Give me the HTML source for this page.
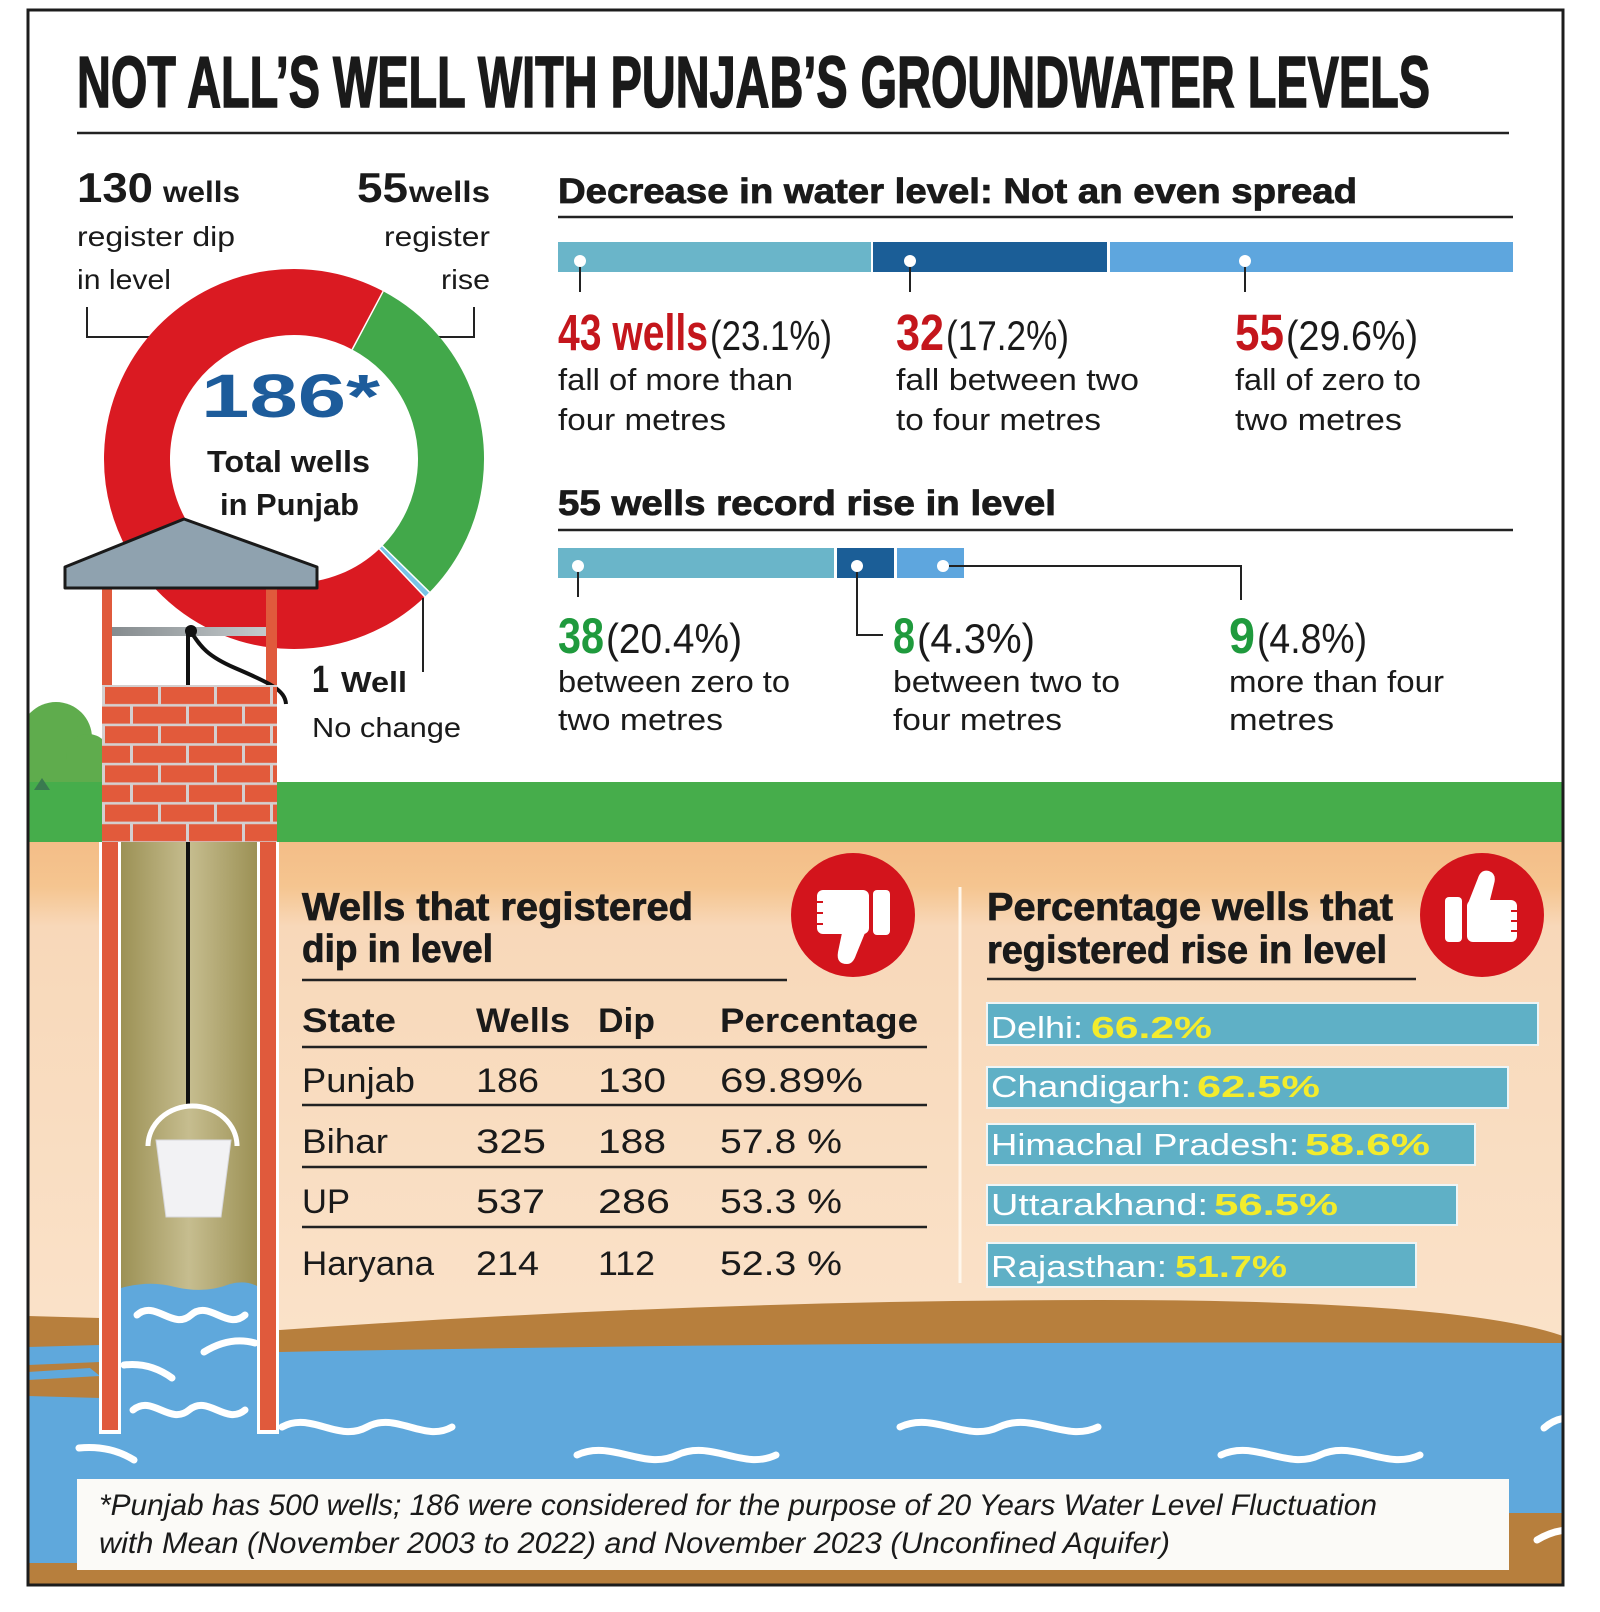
<!DOCTYPE html>
<html>
<head>
<meta charset="utf-8">
<style>
html,body{margin:0;padding:0;background:#fff;}
svg{display:block;}
text{font-family:"Liberation Sans",sans-serif;fill:#1a1a1a;}
.b{font-weight:bold;}
.hv{stroke:#1a1a1a;stroke-width:0.8;}
</style>
</head>
<body>
<svg width="1600" height="1612" viewBox="0 0 1600 1612" xmlns="http://www.w3.org/2000/svg">
<defs>
  <clipPath id="fc"><rect x="28" y="10" width="1535" height="1575"/></clipPath>
  <linearGradient id="peach" x1="0" y1="842" x2="0" y2="1340" gradientUnits="userSpaceOnUse">
    <stop offset="0" stop-color="#f4bd87"/>
    <stop offset="0.09" stop-color="#f5c590"/>
    <stop offset="0.17" stop-color="#f8d8b9"/>
    <stop offset="1" stop-color="#fae2c9"/>
  </linearGradient>
  <linearGradient id="shaft" x1="121" y1="0" x2="257" y2="0" gradientUnits="userSpaceOnUse">
    <stop offset="0" stop-color="#9c9155"/>
    <stop offset="0.5" stop-color="#c6bd8f"/>
    <stop offset="1" stop-color="#9c9155"/>
  </linearGradient>
  <linearGradient id="bar" x1="0" y1="0" x2="1" y2="0">
    <stop offset="0" stop-color="#858b8e"/>
    <stop offset="1" stop-color="#c4cacc"/>
  </linearGradient>
  <pattern id="brk" x="102" y="685" width="112" height="39.2" patternUnits="userSpaceOnUse">
    <rect width="112" height="39.2" fill="#d4cfcf"/>
    <rect x="3" y="2" width="53" height="17" fill="#e25a3b"/>
    <rect x="59" y="2" width="53" height="17" fill="#e25a3b"/>
    <rect x="-25" y="21.6" width="53" height="17" fill="#e25a3b"/>
    <rect x="31" y="21.6" width="53" height="17" fill="#e25a3b"/>
    <rect x="87" y="21.6" width="53" height="17" fill="#e25a3b"/>
  </pattern>
</defs>

<g clip-path="url(#fc)">
  <rect x="0" y="0" width="1600" height="1612" fill="#ffffff"/>

  <!-- bush -->
  <circle cx="56" cy="738" r="36" fill="#5fac4d"/>
  <circle cx="88" cy="756" r="22" fill="#5fac4d"/>
  <rect x="28" y="760" width="80" height="30" fill="#5fac4d"/>

  <!-- green ground -->
  <rect x="28" y="782" width="1535" height="60" fill="#46ad4b"/>
  <polygon points="34,790 42,778 50,790" fill="#3a7a50"/>

  <!-- peach soil -->
  <rect x="28" y="842" width="1535" height="500" fill="url(#peach)"/>

  <!-- brown layer -->
  <path d="M28,1316 L100,1318 L280,1330 Q700,1300 1100,1300 Q1460,1300 1563,1336 L1563,1612 L28,1612 Z" fill="#b77f3d"/>
  <!-- water -->
  <path d="M28,1396 L100,1398 L100,1352 L280,1352 Q900,1340 1563,1343 L1563,1513 L1509,1513 L1509,1563 L28,1563 Z" fill="#5fa8dc"/>
  <path d="M28,1347 L100,1345 L100,1362 L28,1365 Z" fill="#5fa8dc"/>
  <path d="M28,1372 L90,1368 L100,1376 L28,1380 Z" fill="#5fa8dc"/>

  <!-- shaft -->
  <rect x="121" y="842" width="136" height="450" fill="url(#shaft)"/>
  <path d="M121,1288 Q150,1280 175,1287 Q205,1294 230,1284 Q245,1280 257,1286 L257,1440 L121,1440 Z" fill="#5fa8dc"/>

  <!-- rope in shaft -->
  <line x1="188" y1="842" x2="188" y2="1108" stroke="#111" stroke-width="4"/>
  <!-- bucket -->
  <path d="M148,1146 A44.5,40 0 0 1 237,1146" fill="none" stroke="#ffffff" stroke-width="5"/>
  <polygon points="156,1140 231,1140 221,1217 166,1217" fill="#f2f2f4" stroke="#d8d8dc" stroke-width="1"/>

  <!-- lower posts -->
  <rect x="99" y="842" width="22" height="592" fill="#ffffff"/>
  <rect x="102" y="842" width="16" height="588" fill="#e05a3c"/>
  <rect x="257" y="842" width="22" height="592" fill="#ffffff"/>
  <rect x="260" y="842" width="16" height="588" fill="#e05a3c"/>

  <!-- waves -->
  <g fill="none" stroke="#ffffff" stroke-width="7" stroke-linecap="round">
    <path d="M137,1315 C155,1299 173,1331 191,1315 C209,1299 227,1331 245,1315"/>
    <path d="M204,1352 Q230,1336 255,1343"/>
    <path d="M124,1365 Q150,1362 172,1378"/>
    <path d="M133,1410 C152,1394 170,1426 189,1410 C208,1394 226,1426 245,1410"/>
    <path d="M282,1427 C311,1411 338,1443 367,1427 C396,1411 424,1443 452,1427"/>
    <path d="M79,1448 Q110,1445 134,1460"/>
    <path d="M577,1455 C611,1439 644,1471 677,1455 C711,1439 743,1471 776,1455"/>
    <path d="M900,1427 C934,1411 966,1443 999,1427 C1033,1411 1065,1443 1098,1427"/>
    <path d="M1221,1455 C1255,1439 1287,1471 1320,1455 C1354,1439 1386,1471 1420,1455"/>
    <path d="M1544,1428 Q1553,1420 1565,1418"/>
    <path d="M1537,1540 Q1550,1532 1565,1530"/>
  </g>

  <!-- footnote box -->
  <rect x="77" y="1479" width="1432" height="91" fill="#fbfaf7"/>
  <text x="99" y="1515" font-size="30" font-style="italic" textLength="1278" lengthAdjust="spacingAndGlyphs">*Punjab has 500 wells; 186 were considered for the purpose of 20 Years Water Level Fluctuation</text>
  <text x="99" y="1553" font-size="30" font-style="italic" textLength="1071" lengthAdjust="spacingAndGlyphs">with Mean (November 2003 to 2022) and November 2023 (Unconfined Aquifer)</text>

  <!-- TITLE -->
  <text x="77" y="107" font-size="72" class="b" style="stroke:#1a1a1a;stroke-width:1.6" textLength="1353" lengthAdjust="spacingAndGlyphs">NOT ALL’S WELL WITH PUNJAB’S GROUNDWATER LEVELS</text>
  <line x1="77" y1="133" x2="1509" y2="133" stroke="#222" stroke-width="2.5"/>

  <!-- left labels -->
  <text x="77" y="202" font-size="42" class="b" textLength="76" lengthAdjust="spacingAndGlyphs">130</text>
  <text x="163" y="202" font-size="30" class="b" textLength="77" lengthAdjust="spacingAndGlyphs">wells</text>
  <text x="77" y="246" font-size="28" textLength="158" lengthAdjust="spacingAndGlyphs">register dip</text>
  <text x="77" y="289" font-size="28" textLength="94" lengthAdjust="spacingAndGlyphs">in level</text>
  <text x="357" y="202" font-size="42" class="b" textLength="51" lengthAdjust="spacingAndGlyphs">55</text>
  <text x="409" y="202" font-size="30" class="b" textLength="81" lengthAdjust="spacingAndGlyphs">wells</text>
  <text x="384" y="246" font-size="28" textLength="106" lengthAdjust="spacingAndGlyphs">register</text>
  <text x="441" y="289" font-size="28" textLength="49" lengthAdjust="spacingAndGlyphs">rise</text>
  <polyline points="87,307 87,337 158,337" fill="none" stroke="#222" stroke-width="2"/>
  <polyline points="474,307 474,337 411,337" fill="none" stroke="#222" stroke-width="2"/>

  <!-- donut -->
  <circle cx="294" cy="459" r="157" fill="none" stroke="#42a84a" stroke-width="66" stroke-dasharray="291.8 2000" transform="rotate(-62 294 459)"/>
  <circle cx="294" cy="459" r="157" fill="none" stroke="#da1a22" stroke-width="66" stroke-dasharray="689.5 2000" transform="rotate(46.5 294 459)"/>
  <circle cx="294" cy="459" r="157" fill="none" stroke="#79c4e6" stroke-width="66" stroke-dasharray="5.5 2000" transform="rotate(44.5 294 459)"/>
  <line x1="352.2" y1="349.5" x2="383.2" y2="291.2" stroke="#fff" stroke-width="1.5"/>
  <line x1="382.4" y1="545.9" x2="429.5" y2="592.2" stroke="#fff" stroke-width="1.5"/>
  <line x1="379.4" y1="549.0" x2="424.8" y2="596.8" stroke="#fff" stroke-width="1.5"/>
  <line x1="423" y1="598" x2="423" y2="672" stroke="#222" stroke-width="2"/>

  <text x="201" y="417" font-size="61" class="b" style="fill:#1d5c9b" textLength="179" lengthAdjust="spacingAndGlyphs">186*</text>
  <text x="207" y="472" font-size="31" class="b" textLength="163" lengthAdjust="spacingAndGlyphs">Total wells</text>
  <text x="220" y="515" font-size="31" class="b" textLength="139" lengthAdjust="spacingAndGlyphs">in Punjab</text>

  <text x="312" y="692" font-size="38" class="b" textLength="17" lengthAdjust="spacingAndGlyphs">1</text>
  <text x="341" y="692" font-size="29" class="b" textLength="66" lengthAdjust="spacingAndGlyphs">Well</text>
  <text x="312" y="737" font-size="28" textLength="149" lengthAdjust="spacingAndGlyphs">No change</text>

  <!-- well top structure -->
  <rect x="102" y="588" width="10" height="97" fill="#e05a3c"/>
  <rect x="266" y="588" width="11" height="97" fill="#e05a3c"/>
  <rect x="112" y="627" width="154" height="9" fill="url(#bar)"/>
  <line x1="188" y1="631" x2="188" y2="686" stroke="#111" stroke-width="4"/>
  <path d="M191,632 C200,645 205,655 235,668 C270,683 285,690 286,704" fill="none" stroke="#111" stroke-width="4"/>
  <circle cx="191" cy="631" r="6" fill="#111"/>
  <polygon points="184,519 65,567 65,588 317,588 317,567" fill="#8fa2af" stroke="#1a1a1a" stroke-width="3" stroke-linejoin="round"/>
  <rect x="102" y="685" width="175" height="157" fill="url(#brk)"/>

  <!-- decrease section -->
  <text x="558" y="203" font-size="35" class="b hv" textLength="799" lengthAdjust="spacingAndGlyphs">Decrease in water level: Not an even spread</text>
  <line x1="558" y1="217" x2="1513" y2="217" stroke="#222" stroke-width="2.5"/>
  <rect x="558" y="242" width="313" height="30" fill="#6ab5c9"/>
  <rect x="873" y="242" width="234" height="30" fill="#1b5e97"/>
  <rect x="1110" y="242" width="403" height="30" fill="#5ea6de"/>
  <g stroke="#222" stroke-width="2">
    <line x1="580" y1="266" x2="580" y2="292"/>
    <line x1="910" y1="266" x2="910" y2="292"/>
    <line x1="1245" y1="266" x2="1245" y2="292"/>
  </g>
  <g fill="#fff">
    <circle cx="580" cy="261" r="6"/>
    <circle cx="910" cy="261" r="6"/>
    <circle cx="1245" cy="261" r="6"/>
  </g>
  <text x="558" y="350" font-size="51" class="b" style="fill:#c4161c" textLength="150" lengthAdjust="spacingAndGlyphs">43 wells</text>
  <text x="710" y="350" font-size="42" textLength="122" lengthAdjust="spacingAndGlyphs">(23.1%)</text>
  <text x="558" y="390" font-size="31" textLength="235" lengthAdjust="spacingAndGlyphs">fall of more than</text>
  <text x="558" y="430" font-size="31" textLength="168" lengthAdjust="spacingAndGlyphs">four metres</text>
  <text x="896" y="350" font-size="51" class="b" style="fill:#c4161c" textLength="48" lengthAdjust="spacingAndGlyphs">32</text>
  <text x="946" y="350" font-size="42" textLength="123" lengthAdjust="spacingAndGlyphs">(17.2%)</text>
  <text x="896" y="390" font-size="31" textLength="243" lengthAdjust="spacingAndGlyphs">fall between two</text>
  <text x="896" y="430" font-size="31" textLength="205" lengthAdjust="spacingAndGlyphs">to four metres</text>
  <text x="1235" y="350" font-size="51" class="b" style="fill:#c4161c" textLength="49" lengthAdjust="spacingAndGlyphs">55</text>
  <text x="1286" y="350" font-size="42" textLength="132" lengthAdjust="spacingAndGlyphs">(29.6%)</text>
  <text x="1235" y="390" font-size="31" textLength="186" lengthAdjust="spacingAndGlyphs">fall of zero to</text>
  <text x="1235" y="430" font-size="31" textLength="167" lengthAdjust="spacingAndGlyphs">two metres</text>

  <!-- rise section -->
  <text x="558" y="515" font-size="35" class="b hv" textLength="498" lengthAdjust="spacingAndGlyphs">55 wells record rise in level</text>
  <line x1="558" y1="530" x2="1513" y2="530" stroke="#222" stroke-width="2.5"/>
  <rect x="558" y="548" width="276" height="30" fill="#6ab5c9"/>
  <rect x="837" y="548" width="57" height="30" fill="#1b5e97"/>
  <rect x="897" y="548" width="67" height="30" fill="#5ea6de"/>
  <g stroke="#222" stroke-width="2" fill="none">
    <line x1="578" y1="570" x2="578" y2="597"/>
    <polyline points="857,570 857,635 883,635"/>
    <polyline points="949,566 1241,566 1241,600"/>
  </g>
  <g fill="#fff">
    <circle cx="578" cy="566" r="6"/>
    <circle cx="857" cy="566" r="6"/>
    <circle cx="943" cy="566" r="6"/>
  </g>
  <text x="558" y="653" font-size="50" class="b" style="fill:#1f9a3d" textLength="46" lengthAdjust="spacingAndGlyphs">38</text>
  <text x="606" y="653" font-size="42" textLength="136" lengthAdjust="spacingAndGlyphs">(20.4%)</text>
  <text x="558" y="692" font-size="31" textLength="232" lengthAdjust="spacingAndGlyphs">between zero to</text>
  <text x="558" y="730" font-size="31" textLength="165" lengthAdjust="spacingAndGlyphs">two metres</text>
  <text x="893" y="653" font-size="50" class="b" style="fill:#1f9a3d" textLength="22" lengthAdjust="spacingAndGlyphs">8</text>
  <text x="917" y="653" font-size="42" textLength="118" lengthAdjust="spacingAndGlyphs">(4.3%)</text>
  <text x="893" y="692" font-size="31" textLength="227" lengthAdjust="spacingAndGlyphs">between two to</text>
  <text x="893" y="730" font-size="31" textLength="169" lengthAdjust="spacingAndGlyphs">four metres</text>
  <text x="1229" y="653" font-size="50" class="b" style="fill:#1f9a3d" textLength="26" lengthAdjust="spacingAndGlyphs">9</text>
  <text x="1257" y="653" font-size="42" textLength="110" lengthAdjust="spacingAndGlyphs">(4.8%)</text>
  <text x="1229" y="692" font-size="31" textLength="215" lengthAdjust="spacingAndGlyphs">more than four</text>
  <text x="1229" y="730" font-size="31" textLength="105" lengthAdjust="spacingAndGlyphs">metres</text>

  <!-- left table -->
  <text x="302" y="920" font-size="39" class="b hv" textLength="391" lengthAdjust="spacingAndGlyphs">Wells that registered</text>
  <text x="302" y="962" font-size="39" class="b hv" textLength="191" lengthAdjust="spacingAndGlyphs">dip in level</text>
  <line x1="302" y1="980" x2="787" y2="980" stroke="#222" stroke-width="2.5"/>
  <!-- thumbs down -->
  <circle cx="853" cy="915" r="62" fill="#d3141c"/>
  <rect x="873" y="890" width="17" height="45" rx="4" fill="#fff"/>
  <rect x="817" y="890" width="52" height="44" rx="6" fill="#fff"/>
  <path d="M843,928 L838,952 Q836,964 847,964 Q853,964 856,955 L867,928 Z" fill="#fff"/>
  <g stroke="#d3141c" stroke-width="2"><line x1="816" y1="902" x2="823" y2="902"/><line x1="816" y1="913" x2="823" y2="913"/><line x1="816" y1="924" x2="823" y2="924"/></g>

  <text x="302" y="1032" font-size="34" class="b" textLength="94" lengthAdjust="spacingAndGlyphs">State</text>
  <text x="476" y="1032" font-size="34" class="b" textLength="94" lengthAdjust="spacingAndGlyphs">Wells</text>
  <text x="598" y="1032" font-size="34" class="b" textLength="57" lengthAdjust="spacingAndGlyphs">Dip</text>
  <text x="720" y="1032" font-size="34" class="b" textLength="198" lengthAdjust="spacingAndGlyphs">Percentage</text>
  <g stroke="#222" stroke-width="2.5">
    <line x1="302" y1="1047" x2="927" y2="1047"/>
    <line x1="302" y1="1105" x2="927" y2="1105"/>
    <line x1="302" y1="1167" x2="927" y2="1167"/>
    <line x1="302" y1="1227" x2="927" y2="1227"/>
  </g>
  <text x="302" y="1092" font-size="34" textLength="113" lengthAdjust="spacingAndGlyphs">Punjab</text>
  <text x="476" y="1092" font-size="34" textLength="63" lengthAdjust="spacingAndGlyphs">186</text>
  <text x="598" y="1092" font-size="34" textLength="68" lengthAdjust="spacingAndGlyphs">130</text>
  <text x="720" y="1092" font-size="34" textLength="143" lengthAdjust="spacingAndGlyphs">69.89%</text>
  <text x="302" y="1153" font-size="34" textLength="86" lengthAdjust="spacingAndGlyphs">Bihar</text>
  <text x="476" y="1153" font-size="34" textLength="70" lengthAdjust="spacingAndGlyphs">325</text>
  <text x="598" y="1153" font-size="34" textLength="68" lengthAdjust="spacingAndGlyphs">188</text>
  <text x="720" y="1153" font-size="34" textLength="122" lengthAdjust="spacingAndGlyphs">57.8 %</text>
  <text x="302" y="1213" font-size="34" textLength="48" lengthAdjust="spacingAndGlyphs">UP</text>
  <text x="476" y="1213" font-size="34" textLength="69" lengthAdjust="spacingAndGlyphs">537</text>
  <text x="598" y="1213" font-size="34" textLength="72" lengthAdjust="spacingAndGlyphs">286</text>
  <text x="720" y="1213" font-size="34" textLength="122" lengthAdjust="spacingAndGlyphs">53.3 %</text>
  <text x="302" y="1275" font-size="34" textLength="132" lengthAdjust="spacingAndGlyphs">Haryana</text>
  <text x="476" y="1275" font-size="34" textLength="63" lengthAdjust="spacingAndGlyphs">214</text>
  <text x="598" y="1275" font-size="34" textLength="57" lengthAdjust="spacingAndGlyphs">112</text>
  <text x="720" y="1275" font-size="34" textLength="122" lengthAdjust="spacingAndGlyphs">52.3 %</text>

  <!-- divider -->
  <line x1="960" y1="887" x2="960" y2="1283" stroke="#fff7ec" stroke-width="3"/>

  <!-- right panel -->
  <text x="987" y="920" font-size="39" class="b hv" textLength="406" lengthAdjust="spacingAndGlyphs">Percentage wells that</text>
  <text x="987" y="963" font-size="39" class="b hv" textLength="400" lengthAdjust="spacingAndGlyphs">registered rise in level</text>
  <line x1="987" y1="979" x2="1416" y2="979" stroke="#222" stroke-width="2.5"/>
  <!-- thumbs up -->
  <circle cx="1482" cy="915" r="62" fill="#d3141c"/>
  <rect x="1445" y="897" width="17" height="45" rx="4" fill="#fff"/>
  <rect x="1467" y="900" width="50" height="42" rx="6" fill="#fff"/>
  <path d="M1467,906 L1478,878 Q1481,869 1489,871 Q1497,874 1494,884 L1489,904 Z" fill="#fff"/>
  <g stroke="#d3141c" stroke-width="2"><line x1="1511" y1="911" x2="1518" y2="911"/><line x1="1511" y1="921" x2="1518" y2="921"/><line x1="1511" y1="931" x2="1518" y2="931"/></g>

  <g fill="#5fb0c6" stroke="#eef5f6" stroke-width="2">
    <rect x="987" y="1003" width="551" height="42"/>
    <rect x="987" y="1067" width="521" height="41"/>
    <rect x="987" y="1124" width="488" height="41"/>
    <rect x="987" y="1185" width="470" height="40"/>
    <rect x="987" y="1243" width="429" height="44"/>
  </g>
  <text x="991" y="1038" font-size="31" style="fill:#fff" textLength="92" lengthAdjust="spacingAndGlyphs">Delhi:</text>
  <text x="1091" y="1038" font-size="31" class="b" style="fill:#f3ec2c" textLength="121" lengthAdjust="spacingAndGlyphs">66.2%</text>
  <text x="991" y="1097" font-size="31" style="fill:#fff" textLength="200" lengthAdjust="spacingAndGlyphs">Chandigarh:</text>
  <text x="1197" y="1097" font-size="31" class="b" style="fill:#f3ec2c" textLength="123" lengthAdjust="spacingAndGlyphs">62.5%</text>
  <text x="991" y="1155" font-size="31" style="fill:#fff" textLength="308" lengthAdjust="spacingAndGlyphs">Himachal Pradesh:</text>
  <text x="1305" y="1155" font-size="31" class="b" style="fill:#f3ec2c" textLength="125" lengthAdjust="spacingAndGlyphs">58.6%</text>
  <text x="991" y="1215" font-size="31" style="fill:#fff" textLength="217" lengthAdjust="spacingAndGlyphs">Uttarakhand:</text>
  <text x="1214" y="1215" font-size="31" class="b" style="fill:#f3ec2c" textLength="124" lengthAdjust="spacingAndGlyphs">56.5%</text>
  <text x="991" y="1277" font-size="31" style="fill:#fff" textLength="176" lengthAdjust="spacingAndGlyphs">Rajasthan:</text>
  <text x="1175" y="1277" font-size="31" class="b" style="fill:#f3ec2c" textLength="112" lengthAdjust="spacingAndGlyphs">51.7%</text>
</g>

<!-- frame -->
<rect x="28" y="10" width="1535" height="1575" fill="none" stroke="#1c1c1c" stroke-width="3"/>
</svg>
</body>
</html>
